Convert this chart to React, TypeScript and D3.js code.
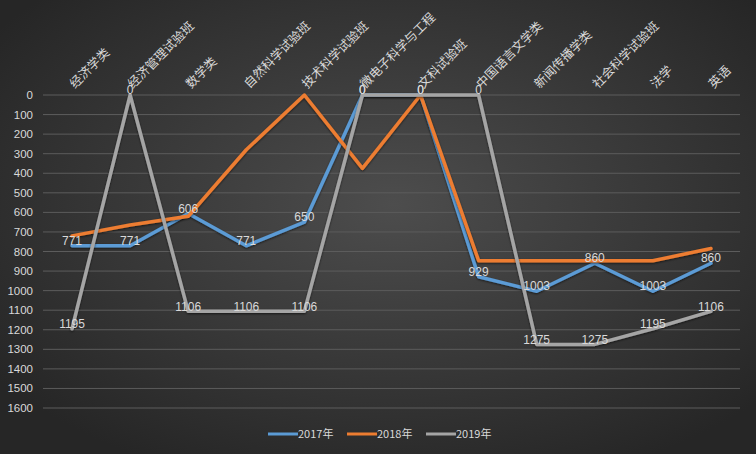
import React, { useEffect, useRef } from 'react';
import * as d3 from 'd3';

// Data
const categories = [
  '经济学类', '经济管理试验班', '数学类', '自然科学试验班', '技术科学试验班', '微电子科学与工程',
  '文科试验班', '中国语言文学类', '新闻传播学类', '社会科学试验班', '法学', '英语'
];
const values2017 = [771, 771, 606, 771, 650, 0, 0, 929, 1003, 860, 1003, 860];
const values2018 = [720, 665, 620, 280, 0, 375, 0, 847, 847, 847, 847, 785];
const values2019 = [1195, 0, 1106, 1106, 1106, 0, 0, 0, 1275, 1275, 1195, 1106];
const seriesNames = ['2017年', '2018年', '2019年'];
const yTicks = d3.range(0, 1700, 100);

const App = () => {
  const chartRef = useRef<HTMLDivElement>(null);

  useEffect(() => {
    const width = 756;
    const height = 454;
    const textColor = '#d9d9d9';
    const colors = ['#5b9bd5', '#ed7d31', '#a5a5a5'];
    const showLabels = [true, false, true];
    const allSeries = [values2017, values2018, values2019];

    d3.select(chartRef.current).select('svg').remove();

    const svg = d3.select(chartRef.current)
      .append('svg')
      .attr('width', width)
      .attr('height', height)
      .style('display', 'block');

    // Background
    const defs = svg.append('defs');
    const grad = defs.append('radialGradient')
      .attr('id', 'bg')
      .attr('cx', '52%')
      .attr('cy', '45%')
      .attr('r', '65%');
    grad.append('stop').attr('offset', '0%').attr('stop-color', '#4d4d4d');
    grad.append('stop').attr('offset', '100%').attr('stop-color', '#262626');

    const shadow = defs.append('filter').attr('id', 'shadow')
      .attr('x', '-10%').attr('y', '-10%').attr('width', '120%').attr('height', '120%');
    shadow.append('feDropShadow')
      .attr('dx', 0).attr('dy', 1).attr('stdDeviation', 1.2)
      .attr('flood-color', '#000').attr('flood-opacity', 0.6);

    svg.append('rect')
      .attr('width', width)
      .attr('height', height)
      .attr('fill', 'url(#bg)');

    // Scales
    const x = d3.scaleBand()
      .domain(categories)
      .range([43, 740]);

    const y = d3.scaleLinear()
      .domain([0, 1600])
      .range([95, 408]);

    const cx = (c: string) => (x(c) as number) + x.bandwidth() / 2;

    // Gridlines
    svg.append('g')
      .selectAll('line')
      .data(yTicks)
      .enter()
      .append('line')
      .attr('x1', 43)
      .attr('x2', 740)
      .attr('y1', d => y(d))
      .attr('y2', d => y(d))
      .attr('stroke', '#5c5c5c')
      .attr('stroke-width', 1);

    // Y axis labels
    svg.append('g')
      .selectAll('text')
      .data(yTicks)
      .enter()
      .append('text')
      .attr('x', 33)
      .attr('y', d => y(d))
      .attr('dy', '0.35em')
      .attr('text-anchor', 'end')
      .attr('fill', textColor)
      .attr('font-family', 'Liberation Sans, Arial, sans-serif')
      .attr('font-size', '11.5px')
      .text(d => d);

    // Category labels (rotated, at top)
    svg.append('g')
      .selectAll('text')
      .data(categories)
      .enter()
      .append('text')
      .attr('transform', d => `translate(${cx(d) - 1},85) rotate(-45)`)
      .attr('dominant-baseline', 'central')
      .attr('fill', textColor)
      .attr('font-family', 'Noto Sans CJK SC, sans-serif')
      .attr('font-size', '12.5px')
      .text(d => d);

    // Lines
    const line = d3.line<number>()
      .x((d, i) => cx(categories[i]))
      .y(d => y(d));

    allSeries.forEach((vals, s) => {
      svg.append('path')
        .datum(vals)
        .attr('d', line)
        .attr('fill', 'none')
        .attr('stroke', colors[s])
        .attr('stroke-width', 3.5)
        .attr('stroke-linejoin', 'round')
        .attr('stroke-linecap', 'round')
        .attr('filter', 'url(#shadow)');
    });

    // Data labels
    allSeries.forEach((vals, s) => {
      if (!showLabels[s]) return;
      svg.append('g')
        .selectAll('text')
        .data(vals)
        .enter()
        .append('text')
        .attr('x', (d, i) => cx(categories[i]))
        .attr('y', d => y(d) - 5)
        .attr('dy', '0.35em')
        .attr('text-anchor', 'middle')
        .attr('fill', textColor)
        .attr('font-family', 'Liberation Sans, Arial, sans-serif')
        .attr('font-size', '12px')
        .text(d => d);
    });

    // Legend
    const legendX = [268, 347, 426];
    const legend = svg.append('g');
    seriesNames.forEach((name, s) => {
      legend.append('line')
        .attr('x1', legendX[s])
        .attr('x2', legendX[s] + 30)
        .attr('y1', 434)
        .attr('y2', 434)
        .attr('stroke', colors[s])
        .attr('stroke-width', 3);
      legend.append('text')
        .attr('x', legendX[s] + 30)
        .attr('y', 434)
        .attr('dy', '0.35em')
        .attr('fill', textColor)
        .attr('font-family', 'Noto Sans CJK SC, sans-serif')
        .attr('font-size', '11px')
        .text(name);
    });
  }, []);

  return (
    <div ref={chartRef} style={{ position: 'absolute', left: 0, top: 0 }}></div>
  );
};

export default App;
